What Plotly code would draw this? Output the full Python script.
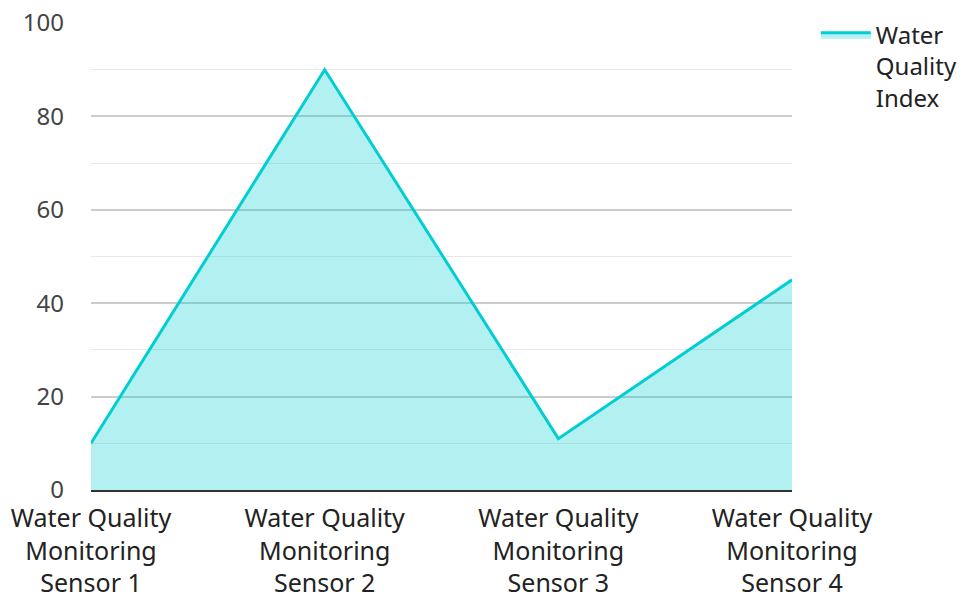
import plotly.graph_objects as go

# Sensor readings
sensors = [
    "Water Quality<br>Monitoring<br>Sensor 1",
    "Water Quality<br>Monitoring<br>Sensor 2",
    "Water Quality<br>Monitoring<br>Sensor 3",
    "Water Quality<br>Monitoring<br>Sensor 4",
]
quality_index = [10, 90, 11, 45]
y_ticks = [0, 20, 40, 60, 80, 100]

positions = list(range(len(sensors)))

fig = go.Figure()
fig.add_trace(go.Scatter(
    x=positions,
    y=quality_index,
    mode="lines",
    name="Water<br>Quality<br>Index",
    line=dict(color="#00CED1", width=3),
    fill="tozeroy",
    fillcolor="rgba(0,206,209,0.3)",
))

font_family = "Noto Sans, Open Sans, sans-serif"

fig.update_layout(
    width=962,
    height=594,
    margin=dict(l=91, r=170, t=23, b=104, autoexpand=False),
    paper_bgcolor="white",
    plot_bgcolor="white",
    font=dict(family=font_family, size=24, color="#333"),
    showlegend=True,
    legend=dict(
        x=1.034, y=1.022, xanchor="left", yanchor="top",
        valign="top",
        itemwidth=50,
        font=dict(size=24, color="#222"),
        bgcolor="rgba(0,0,0,0)",
    ),
    xaxis=dict(
        tickmode="array",
        tickvals=positions,
        ticktext=sensors,
        range=[0, len(sensors) - 1],
        showgrid=False,
        zeroline=False,
        showline=True,
        linecolor="#333",
        linewidth=2,
        ticks="",
        ticklabelstandoff=5,
        automargin=False,
        tickfont=dict(size=25, color="#222"),
    ),
    yaxis=dict(
        range=[0, 100],
        tickvals=y_ticks,
        showgrid=True,
        gridcolor="#cccccc",
        gridwidth=1.5,
        zeroline=False,
        showline=False,
        ticks="",
        ticklabelstandoff=26,
        automargin=False,
        tickfont=dict(size=24, color="#444"),
        minor=dict(dtick=10, showgrid=True, gridcolor="#e8e8e8", gridwidth=1),
    ),
)

fig.write_html("out.html")
